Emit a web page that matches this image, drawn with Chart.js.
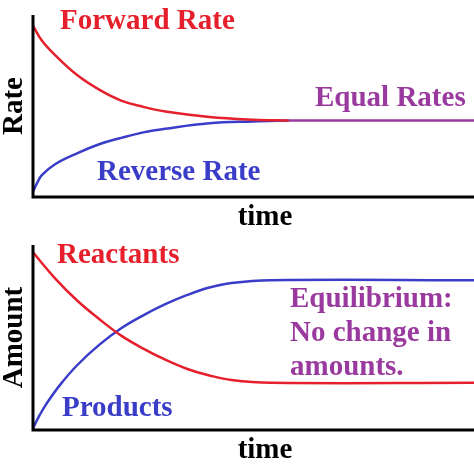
<!DOCTYPE html>
<html><head><meta charset="utf-8">
<script src="https://cdn.jsdelivr.net/npm/chart.js@4"></script>
<style>
body{margin:0;background:#fff;}
canvas{position:absolute;left:0;}
</style></head>
<body>
<div style="position:absolute;left:0;top:0;width:474px;height:233px"><canvas id="rateChart"></canvas></div>
<div style="position:absolute;left:0;top:233px;width:474px;height:233px"><canvas id="amountChart"></canvas></div>
<script>
const RED = "#e51f2b", BLUE = "#3a3dc8", PURPLE = "#9a3a9f";

// top panel: rates (x = time 0..100, y = rate 0..100)
const forwardX = [0, 2, 5, 10, 15, 20, 25, 30, 40, 50, 58];
const forwardY = [94, 86, 78, 67, 59, 53, 49.5, 47, 44, 42.5, 42];
const reverseX = [0, 1, 2, 5, 10, 15, 20, 25, 30, 40, 50, 58];
const reverseY = [3, 8, 12, 18, 24, 29, 32.5, 35.5, 37.5, 40.5, 41.5, 42];
const equalX = [58, 100];
const equalY = [42, 42];

// bottom panel: amounts
const reactX = [0, 5, 10, 15, 20, 25, 30, 35, 40, 45, 54, 100];
const reactY = [96, 82, 70, 60, 51, 44, 38, 33, 29.5, 27, 25.5, 25.5];
const prodX = [0, 1.5, 3, 6, 10, 15, 20, 25, 30, 35, 40, 45, 54, 100];
const prodY = [1, 8, 14, 24, 35, 46, 55, 62, 68, 73, 77, 79.5, 81, 81];

function pts(xs, ys) { return xs.map((x, i) => ({ x: x, y: ys[i] })); }

function labelsPlugin(texts, yTitle) {
  return {
    id: "labels",
    afterDraw(chart) {
      const c = chart.ctx, a = chart.chartArea;
      c.save();
      c.strokeStyle = "#000"; c.lineWidth = 3;
      c.beginPath();
      c.moveTo(a.left, a.top); c.lineTo(a.left, a.bottom); c.lineTo(a.right, a.bottom);
      c.stroke();
      c.font = "bold 29px 'Liberation Serif', serif";
      c.textBaseline = "middle";
      texts.forEach(t => { c.fillStyle = t[3]; c.fillText(t[0], t[1], t[2]); });
      c.fillStyle = "#000";
      c.textAlign = "center";
      c.fillText("time", 265, 218);
      c.translate(15, (a.top + a.bottom) / 2);
      c.rotate(-Math.PI / 2);
      c.fillText(yTitle, 0, 0);
      c.restore();
    }
  };
}

function makeChart(id, sets, texts, yTitle, top) {
  new Chart(document.getElementById(id), {
    type: "line",
    data: {
      datasets: sets.map(s => ({
        data: pts(s[0], s[1]), borderColor: s[2], borderWidth: 2.5,
        pointRadius: 0, tension: 0.4, fill: false
      }))
    },
    options: {
      responsive: true, maintainAspectRatio: false, animation: false,
      layout: { padding: { left: 33, top: top, right: 0, bottom: 36 } },
      plugins: { legend: { display: false }, tooltip: { enabled: false } },
      scales: {
        x: { type: "linear", min: 0, max: 100, display: false },
        y: { min: 0, max: 100, display: false }
      }
    },
    plugins: [labelsPlugin(texts, yTitle)]
  });
}

makeChart("rateChart",
  [[forwardX, forwardY, RED], [reverseX, reverseY, BLUE], [equalX, equalY, PURPLE]],
  [["Forward Rate", 60, 22, RED], ["Reverse Rate", 97, 173, BLUE], ["Equal Rates", 315, 99, PURPLE]],
  "Rate", 15);

makeChart("amountChart",
  [[reactX, reactY, RED], [prodX, prodY, BLUE]],
  [["Reactants", 57, 23, RED], ["Products", 62, 176, BLUE],
   ["Equilibrium:", 290, 67, PURPLE], ["No change in", 290, 101, PURPLE], ["amounts.", 290, 135, PURPLE]],
  "Amount", 12);
</script>
</body></html>
